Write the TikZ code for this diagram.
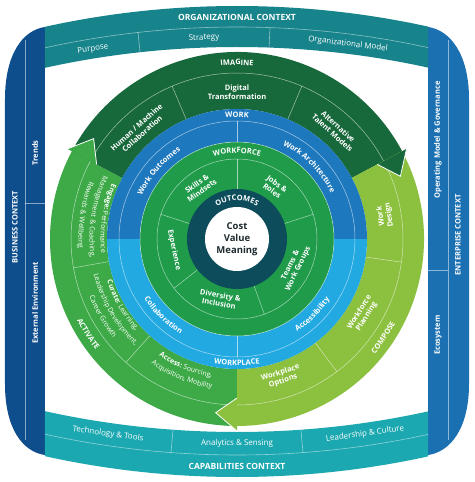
\documentclass[tikz,border=0pt]{standalone}
\usepackage{fontspec}
\setmainfont{Open Sans}
\usetikzlibrary{decorations.text}

\definecolor{orgteal}{HTML}{17848B}
\definecolor{capteal}{HTML}{1CA8B0}
\definecolor{bizblue}{HTML}{0F4E8C}
\definecolor{entblue}{HTML}{1B70B2}
\definecolor{imagine}{HTML}{17683A}
\definecolor{activate}{HTML}{3DAA47}
\definecolor{compose}{HTML}{8CC03F}
\definecolor{workblue}{HTML}{1E78BE}
\definecolor{placeblue}{HTML}{22A9E1}
\definecolor{forcegreen}{HTML}{1F9B4A}
\definecolor{outcomes}{HTML}{0D4C5A}
\definecolor{coretext}{HTML}{1E2B30}

\newcommand\ringcaps{\fontsize{7.5}{9}\selectfont\bfseries\color{white}}
\newcommand\ringsegs{\fontsize{7.5}{9}\selectfont\bfseries\color{white}}
\newcommand\ringsmall{\fontsize{7}{8}\selectfont\color{white}}
\newcommand\ringbold{\fontsize{7}{8}\selectfont\bfseries\color{white}}

\def\ringtext(#1:#2:#3)#4{\path[decorate,decoration={text along path,text align=center,text={#4}}] (#1:#3) arc (#1:#2:#3);}
\def\ringbody#1(#2:#3){\fill[#1] (#2:187) arc (#2:#3:187) -- (#3:130) arc (#3:#2:130) -- cycle;}
\def\ringhead#1(#2:#3){\fill[#1] (#2:159) -- (#2:192) -- (#3:175) -- cycle; \draw[headline] (#2:192) -- (#3:175) -- (#2:159);}

\tikzset{
  ctxlabel/.style={text=white,font=\fontsize{8.5}{10}\selectfont\bfseries,inner sep=0pt},
  sublabel/.style={text=white,font=\fontsize{8}{9}\selectfont,inner sep=0pt},
  sidelabel/.style={text=white,font=\fontsize{7.5}{9}\selectfont\bfseries,inner sep=0pt,rotate=90},
  seglabel/.style={text=white,font=\fontsize{7.5}{8.5}\selectfont\bfseries,align=center,inner sep=0pt},
  corelabel/.style={text=coretext,font=\fontsize{9.5}{12}\selectfont\bfseries,align=center,inner sep=0pt},
  frameline/.style={white,line width=0.6,opacity=0.5},
  ringline/.style={white,line width=0.5,opacity=0.6},
  headline/.style={white,line width=0.8}
}

\begin{document}
\begin{tikzpicture}[x=1pt,y=1pt]
\useasboundingbox (-237,-243) rectangle (237,239);

%%%%% FRAME %%%%%
\fill[bizblue] (-192,212) .. controls (-214,209) and (-232,185) .. (-232,140) -- (-232,-145) .. controls (-232,-190) and (-214,-213) .. (-192,-216) -- cycle;
\fill[entblue] (191,212) .. controls (213,209) and (232,185) .. (232,140) -- (232,-145) .. controls (232,-190) and (213,-213) .. (191,-216) -- cycle;
\draw[frameline] (-212,199) -- (-212,-201);
\draw[frameline] (-212,36) -- (-192,36);
\draw[frameline] (211,199) -- (211,-201);
\draw[frameline] (191,-31) -- (211,-31);

\begin{scope}
  \clip (-192,100) rectangle (191,260);
  \fill[orgteal,even odd rule] (0,-655) circle (888) (0,-696) circle (888);
  \draw[frameline] (0,-676) circle (888);
\end{scope}
\draw[frameline] (-97,187) -- (-99,207);
\draw[frameline] (32,191) -- (33,211);

\begin{scope}
  \clip (-192,-260) rectangle (191,-100);
  \fill[capteal,even odd rule] (0,695) circle (888) (0,650) circle (888);
  \draw[frameline] (0,672) circle (888);
\end{scope}
\draw[frameline] (-64,-191) -- (-66,-214);
\draw[frameline] (64,-191) -- (66,-214);

\node[ctxlabel] (orgctx) at (0,222) {ORGANIZATIONAL CONTEXT};
\node[sublabel,rotate=9] (purpose) at (-144,190) {Purpose};
\node[sublabel,rotate=2] (strategy) at (-33,201) {Strategy};
\node[sublabel,rotate=-7] (orgmodel) at (111,195) {Organizational Model};

\node[ctxlabel] (capctx) at (0,-227) {CAPABILITIES CONTEXT};
\node[sublabel,rotate=-8] (techtools) at (-129,-195) {Technology \& Tools};
\node[sublabel] (analytics) at (0,-204) {Analytics \& Sensing};
\node[sublabel,rotate=8] (leadership) at (128,-195) {Leadership \& Culture};

\node[sidelabel] (bizctx) at (-222,12) {BUSINESS CONTEXT};
\node[sidelabel] (trends) at (-202,86) {Trends};
\node[sidelabel] (extenv) at (-202,-64) {External Environment};
\node[sidelabel] (entctx) at (221,4) {ENTERPRISE CONTEXT};
\node[sidelabel] (opmodel) at (201,99) {Operating Model \& Governance};
\node[sidelabel] (ecosystem) at (201,-96) {Ecosystem};

%%%%% OUTER RING %%%%%
\ringbody{activate}(270:152)
\ringbody{imagine}(152:28)
\ringbody{compose}(28:-90)
\draw[ringline] (0,0) circle (166);
\foreach \a in {113,67,-8,-53,228,190}
  \draw[ringline] (\a:130) -- (\a:166);
\ringhead{activate}(152:145)
\ringhead{imagine}(28:21)
\ringhead{compose}(-90:-97)

%%%%% WORK / WORKPLACE %%%%%
\fill[workblue] (0:130) arc (0:180:130) -- (180:97) arc (180:0:97) -- cycle;
\fill[placeblue] (180:130) arc (180:360:130) -- (0:97) arc (360:180:97) -- cycle;
\draw[ringline] (0,0) circle (118);
\draw[ringline] (90:97) -- (90:118);
\draw[ringline] (270:97) -- (270:118);

%%%%% WORKFORCE %%%%%
\fill[forcegreen] (0,0) circle (97);
\draw[ringline] (0,0) circle (97);
\draw[ringline] (0,0) circle (80);
\foreach \a in {90,18,-70,-142,162}
  \draw[ringline] (\a:50) -- (\a:80);

%%%%% OUTCOMES %%%%%
\fill[outcomes] (0,0) circle (50);
\fill[white] (0,0) circle (32);
\node[corelabel] (core) at (0,0) {Cost\\Value\\Meaning};

%%%%% RING TEXT %%%%%
\ringtext(150:30:38.5){|\ringcaps|OUTCOMES}
\ringtext(130:50:86){|\ringcaps|WORKFORCE}
\ringtext(110:70:121.5){|\ringcaps|WORK}
\ringtext(240:300:126.5){|\ringcaps|WORKPLACE}
\ringtext(110:70:174){|\ringcaps|IMAGINE}
\ringtext(190:235:179.5){|\ringcaps|ACTIVATE}
\ringtext(-55:-13:179.5){|\ringcaps|COMPOSE}

\ringtext(175:103:104.5){|\ringsegs|Work Outcomes}
\ringtext(80:10:104.5){|\ringsegs|Work Architecture}
\ringtext(190:262:110.5){|\ringsegs|Collaboration}
\ringtext(-80:-10:110.5){|\ringsegs|Accessibility}

\ringtext(141:201:136.5){|\ringbold|Engage:|\ringsmall| Performance}
\ringtext(141:201:147.5){|\ringsmall|Management {\&} Coaching,}
\ringtext(141:201:158.5){|\ringsmall|Rewards {\&} Wellbeing}
\ringtext(180:240:136.5){|\ringbold|Curate:|\ringsmall| Learning,}
\ringtext(180:240:147.5){|\ringsmall|Leadership Development,}
\ringtext(180:240:158.5){|\ringsmall|Career Growth}
\ringtext(220:276:140.5){|\ringbold|Access:|\ringsmall| Sourcing,}
\ringtext(220:276:151.5){|\ringsmall|Acquisition, Mobility}

%%%%% SEGMENT LABELS %%%%%
\node[seglabel,rotate=42] (humanmachine) at (132:146) {Human / Machine\\Collaboration};
\node[seglabel] (digital) at (90:147) {Digital\\Transformation};
\node[seglabel,rotate=-42] (alttalent) at (48:147) {Alternative\\Talent Models};
\node[seglabel,rotate=99] (workdesign) at (9:150) {Work\\Design};
\node[seglabel,rotate=58] (wfplanning) at (-31:147) {Workforce\\Planning};
\node[seglabel,rotate=18] (wpoptions) at (-72:145) {Workplace\\Options};

\node[seglabel,rotate=36] (skills) at (126:64) {Skills \&\\Mindsets};
\node[seglabel,rotate=-36] (jobs) at (54:64) {Jobs \&\\Roles};
\node[seglabel,rotate=64] (teams) at (-26:64) {Teams \&\\Work Groups};
\node[seglabel,rotate=-10] (diversity) at (-106:63) {Diversity \&\\Inclusion};
\node[seglabel,rotate=-78] (experience) at (190:64) {Experience};

\end{tikzpicture}
\end{document}
